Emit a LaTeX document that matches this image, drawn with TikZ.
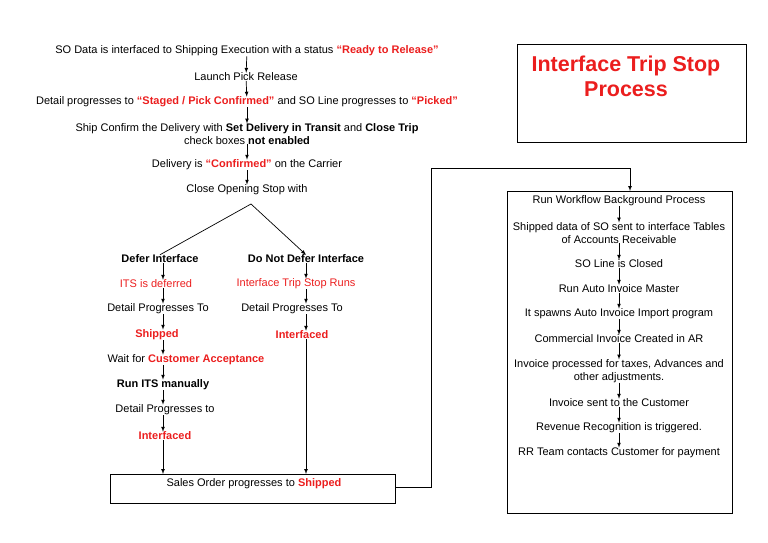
\documentclass[tikz,border=0pt]{standalone}
\usepackage{fontspec}
\setmainfont{Liberation Sans}
\definecolor{myred}{RGB}{235,30,30}
\newcommand{\rr}[1]{\textcolor{myred}{\textbf{#1}}}
\begin{document}
\begin{tikzpicture}[x=1pt,y=-1pt,
  t/.style={inner sep=0pt,font=\fontsize{11}{12.5}\selectfont,align=center},
  a/.style={-latex,black,line width=0.7pt},
  ln/.style={black,line width=0.7pt}]
\useasboundingbox (0,0) rectangle (768,543);
\node[t] (n1) at (247,51) {SO Data is interfaced to Shipping Execution with a status \rr{``Ready to Release''}};
\node[t] (n2) at (246,77) {Launch Pick Release};
\node[t] (n3) at (247,102) {Detail progresses to \rr{``Staged / Pick Confirmed''} and SO Line progresses to \rr{``Picked''}};
\node[t] (n4) at (247,134) {Ship Confirm the Delivery with \textbf{Set Delivery in Transit} and \textbf{Close Trip}\\check boxes \textbf{not enabled}};
\node[t] (n5) at (247,165) {Delivery is \rr{``Confirmed''} on the Carrier};
\node[t] (n6) at (247,190) {Close Opening Stop with};
\foreach \p/\q in {n1/n2,n2/n3,n3/n4,n4/n5,n5/n6} \draw[a] (\p) -- (\q);
\coordinate (apex) at (251,204);
\node[t] (l1) at (160,259) {\textbf{Defer Interface}};
\node[t] (r1) at (306,259) {\textbf{Do Not Defer Interface}};
\draw[ln] (apex) -- (l1.north);
\draw[a] (apex) -- (r1.north);
\node[t,text=myred] (l2) at (156,284) {ITS is deferred};
\node[t] (l3) at (158,309) {Detail Progresses To};
\node[t] (l4) at (157,335) {\rr{Shipped}};
\node[t] (l5) at (186,360) {Wait for \rr{Customer Acceptance}};
\node[t] (l6) at (163,385) {\textbf{Run ITS manually}};
\node[t] (l7) at (165,410) {Detail Progresses to};
\node[t] (l8) at (165,436) {\rr{Interfaced}};
\foreach \p/\q in {l1/l2,l2/l3,l3/l4,l4/l5,l5/l6,l6/l7,l7/l8} \draw[a] (\p.south -| 163,0) -- (\q.north -| 163,0);
\node[t,text=myred] (r2) at (296,284) {Interface Trip Stop Runs};
\node[t] (r3) at (292,309) {Detail Progresses To};
\node[t] (r4) at (302,335) {\rr{Interfaced}};
\foreach \p/\q in {r1/r2,r2/r3,r3/r4} \draw[a] (\p.south -| 306,0) -- (\q.north -| 306,0);
\node[draw,line width=0.7pt,minimum width=285pt,minimum height=29pt,anchor=north west,inner sep=0pt] (box) at (110,474) {};
\node[t] (boxt) at (254,484) {Sales Order progresses to \rr{Shipped}};
\draw[a] (l8.south -| 163,0) -- (163,474);
\draw[a] (r4.south -| 306,0) -- (306,474);
\node[draw,line width=0.7pt,minimum width=229pt,minimum height=98pt,anchor=north west,inner sep=0pt] (title) at (517,44) {};
\node[align=center,text=myred,font=\fontsize{21.5}{25}\selectfont\bfseries] at (626,76) {Interface Trip Stop\\Process};
\node[draw,line width=0.7pt,minimum width=225pt,minimum height=322pt,anchor=north west,inner sep=0pt] (rb) at (507,191) {};
\draw[a] (box.east |- 0,487) -- (431,487) -- (431,168) -- (630,168) -- (630,191);
\node[t] (m1) at (619,201) {Run Workflow Background Process};
\node[t] (m2) at (619,233) {Shipped data of SO sent to interface Tables\\of Accounts Receivable};
\node[t] (m3) at (619,264) {SO Line is Closed};
\node[t] (m4) at (619,289) {Run Auto Invoice Master};
\node[t] (m5) at (619,314) {It spawns Auto Invoice Import program};
\node[t] (m6) at (619,339) {Commercial Invoice Created in AR};
\node[t] (m7) at (619,371) {Invoice processed for taxes, Advances and\\other adjustments.};
\node[t] (m8) at (619,403) {Invoice sent to the Customer};
\node[t] (m9) at (619,428) {Revenue Recognition is triggered.};
\node[t] (m10) at (619,453) {RR Team contacts Customer for payment};
\foreach \p/\q in {m1/m2,m2/m3,m3/m4,m4/m5,m5/m6,m6/m7,m7/m8,m8/m9,m9/m10} \draw[a] (\p) -- (\q);
\end{tikzpicture}
\end{document}
